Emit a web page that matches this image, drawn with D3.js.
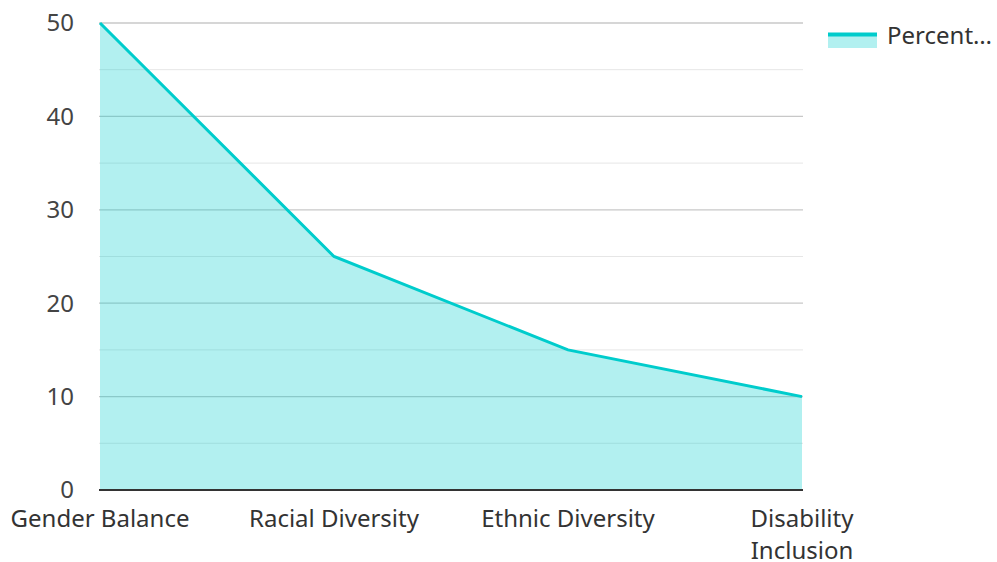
<!DOCTYPE html>
<html><head><meta charset="utf-8">
<script src="https://cdn.jsdelivr.net/npm/d3@7"></script>
<style>body{margin:0;background:#fff;}svg{display:block;font-family:"Noto Sans","Open Sans",sans-serif;}</style>
</head><body>
<svg id="chart" width="997" height="562"></svg>
<script>
const categories = ["Gender Balance", "Racial Diversity", "Ethnic Diversity", "Disability Inclusion"];
const values = [50, 25, 15, 10];
const seriesName = "Percent…";
const yTicks = [0, 10, 20, 30, 40, 50];
const yMinorTicks = [5, 15, 25, 35, 45];

(function() {
const svg = d3.select("#chart");
const mLeft = 100, mRight = 802, mTop = 23, mBottom = 490;
const fs = 24;
const x = d3.scalePoint().domain(categories).range([mLeft, mRight]).padding(0);
const y = d3.scaleLinear().domain([0, 50]).range([mBottom, mTop]);

// gridlines
svg.append("g").selectAll("line").data(yMinorTicks).join("line")
  .attr("x1", mLeft - 1).attr("x2", mRight + 1)
  .attr("y1", d => y(d)).attr("y2", d => y(d))
  .attr("stroke", "#e6e6e6").attr("stroke-width", 1);
svg.append("g").selectAll("line").data(yTicks.filter(d => d > 0)).join("line")
  .attr("x1", mLeft - 1).attr("x2", mRight + 1)
  .attr("y1", d => y(d)).attr("y2", d => y(d))
  .attr("stroke", "#c8c8c8").attr("stroke-width", 1.3);

const data = categories.map((c, i) => ({c, v: values[i]}));
const area = d3.area().x(d => x(d.c)).y0(y(0)).y1(d => y(d.v));
const line = d3.line().x(d => x(d.c)).y(d => y(d.v));

svg.append("path").datum(data).attr("d", area)
  .attr("fill", "#00cccc").attr("fill-opacity", 0.3);
svg.append("path").datum(data).attr("d", line)
  .attr("fill", "none").attr("stroke", "#00cccc").attr("stroke-width", 3);

// x axis line
svg.append("line").attr("x1", mLeft - 1).attr("x2", mRight + 1)
  .attr("y1", y(0)).attr("y2", y(0)).attr("stroke", "#333").attr("stroke-width", 2);

// y labels
svg.append("g").selectAll("text").data(yTicks).join("text")
  .attr("x", 74).attr("y", d => y(d)).attr("dy", "0.35em")
  .attr("text-anchor", "end").attr("fill", "#444").attr("font-size", fs)
  .text(d => d);

// x labels
const xl = svg.append("g").selectAll("text").data(categories).join("text")
  .attr("x", d => x(d)).attr("y", 527)
  .attr("text-anchor", "middle").attr("fill", "#333").attr("font-size", fs);
xl.each(function(d, i) {
  const t = d3.select(this);
  if (i === categories.length - 1) {
    const words = d.split(" ");
    words.forEach((w, j) => t.append("tspan").attr("x", x(d)).attr("dy", j === 0 ? 0 : 32).text(w));
  } else t.text(d);
});

// legend
const lg = svg.append("g");
lg.append("rect").attr("x", 828).attr("y", 34).attr("width", 49).attr("height", 14)
  .attr("fill", "#00cccc").attr("fill-opacity", 0.3);
lg.append("line").attr("x1", 828).attr("x2", 877).attr("y1", 34.5).attr("y2", 34.5)
  .attr("stroke", "#00cccc").attr("stroke-width", 4);
lg.append("text").attr("x", 887).attr("y", 44).attr("fill", "#333").attr("font-size", fs)
  .text(seriesName);
})();
</script>
</body></html>
